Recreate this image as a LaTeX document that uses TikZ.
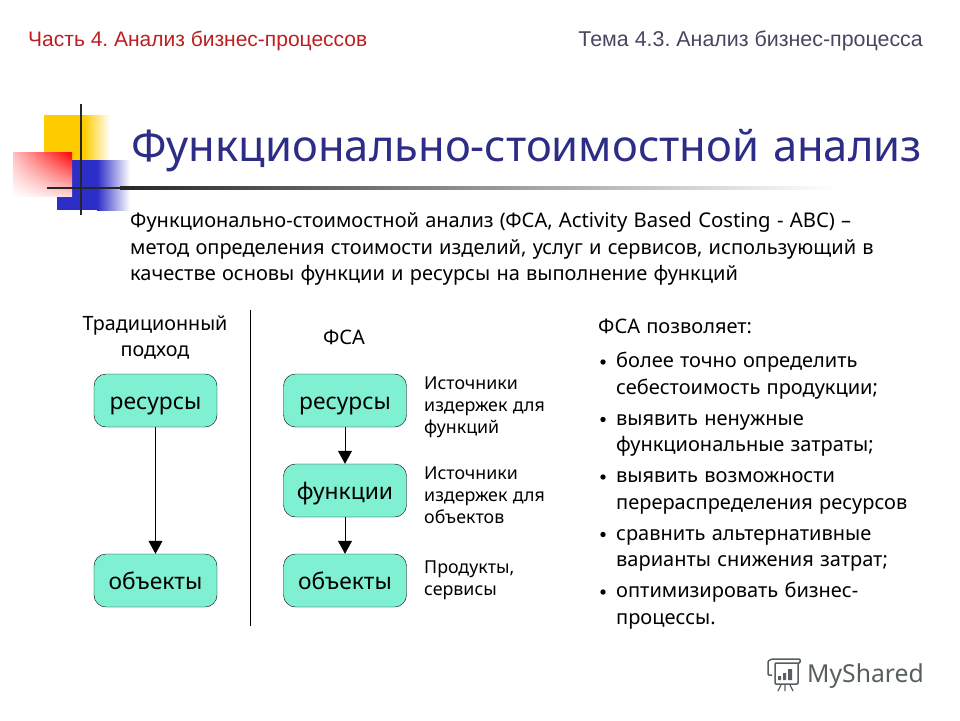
\documentclass[tikz,border=0pt]{standalone}
\usepackage{fontspec}
\setmainfont[WordSpace=1.2]{Noto Sans}
\newfontfamily\headfont{Liberation Sans}
\usetikzlibrary{arrows.meta,shadings}
\definecolor{titleblue}{RGB}{45,45,135}
\definecolor{headred}{RGB}{190,30,30}
\definecolor{headgrey}{RGB}{70,70,95}
\definecolor{boxgreen}{RGB}{128,240,210}
\definecolor{logogrey}{RGB}{85,95,95}
\definecolor{sqyellow}{RGB}{255,204,0}
\definecolor{sqblue}{RGB}{45,45,200}
\frenchspacing
\newcommand{\lnup}{\rule{0pt}{17pt}}
\tikzset{
  stepbox/.style={draw=black,fill=boxgreen,rounded corners=12pt,minimum width=123pt,minimum height=53pt,inner sep=0pt,text height=18pt,text depth=0pt,font=\fontsize{22.8}{24}\selectfont},
  flow/.style={draw=black,line width=0.8pt,-{Triangle[length=13pt,width=14pt]}},
  plain/.style={inner sep=0pt,align=left,font=\fontsize{20}{26.5}\selectfont},
  note/.style={inner sep=0pt,align=left,anchor=north west,font=\fontsize{17.8}{22}\selectfont},
  item/.style={inner sep=0pt,align=left,anchor=north west,font=\fontsize{20}{26.5}\selectfont},
  head/.style={inner sep=0pt,font=\headfont\fontsize{21}{23}\selectfont},
}
\begin{document}
\begin{tikzpicture}[x=1pt,y=-1pt]
  \useasboundingbox (0,0) rectangle (960,720);
  % logo squares
  \shade[left color=sqyellow,right color=white] (84,115) rectangle (110,162);
  \fill[sqyellow] (44,115) rectangle (84,162);
  \shade[left color=sqblue,right color=white] (97,160) rectangle (130,210);
  \fill[sqblue] (57,160) rectangle (97,210);
  \shade[lower left=white,upper right=red,upper left=red!25,lower right=red!15] (13,152) rectangle (72,196);
  \shade[left color=black!85,right color=white] (120,186.7) rectangle (835,189.3);
  \fill[black!85] (47,186.7) rectangle (120,189.3);
  \draw[line width=2.5pt,black!85] (81,104) -- (81,215);
  % header
  \node[head,text=headred,anchor=base west] (part) at (28,46) {Часть 4. Анализ бизнес-процессов};
  \node[head,text=headgrey,anchor=base east,font=\headfont\fontsize{21.4}{23}\selectfont] (theme) at (923,46) {Тема 4.3. Анализ бизнес-процесса};
  \node[text=titleblue,anchor=base west,inner sep=0pt,font=\fontsize{43.5}{46}\selectfont] (title) at (131,161) {Функционально-стоимостной анализ};
  \node[plain,anchor=north west] (intro) at (130,212) {Функционально-стоимостной анализ (ФСА, {\fontsize{20.3}{26.5}\selectfont Activity Based Costing - ABC}) --\\метод определения стоимости изделий, услуг и сервисов, использующий в\\качестве основы функции и ресурсы на выполнение функций};
  % left column
  \node[plain,align=center,font=\fontsize{19.7}{26}\selectfont] (trad) at (155,337.5) {Традиционный\\подход};
  \node[stepbox] (res1) at (155.5,400.5) {ресурсы};
  \node[stepbox] (obj1) at (155.5,580.5) {объекты};
  \draw[flow] (res1) -- (obj1);
  \coordinate (sepa) at (250,310);
  \coordinate (sepb) at (250,626);
  \draw (sepa) -- (sepb);
  % right column
  \node[inner sep=0pt,font=\fontsize{20}{22}\selectfont] (fsa) at (344,337) {ФСА};
  \node[stepbox] (res2) at (345,400.5) {ресурсы};
  \node[stepbox] (fun2) at (345,490.5) {функции};
  \node[stepbox] (obj2) at (345,580.5) {объекты};
  \draw[flow] (res2) -- (fun2);
  \draw[flow] (fun2) -- (obj2);
  \node[note] (src1) at (424,377) {Источники\\издержек для\\функций};
  \node[note] (src2) at (424,467) {Источники\\издержек для\\объектов};
  \node[note] (src3) at (424,561) {Продукты,\\сервисы};
  % list
  \node[item] (can) at (598,318.5) {ФСА позволяет:};
  \foreach \y/\t in {350.5/{более точно определить\\себестоимость продукции;},
                     408/{выявить ненужные\\функциональные затраты;},
                     465.5/{выявить возможности\\перераспределения ресурсов},
                     523/{сравнить альтернативные\\варианты снижения затрат;},
                     580.5/{оптимизировать бизнес-\\процессы.}} {
    \node[item] at (616,\y) {\lnup\t};
    \fill (603,\y+11.5) circle (2.7pt);
  }
  % mark
  \node[anchor=base west,inner sep=0pt,text=logogrey,font=\fontsize{24.7}{28}\selectfont] (brand) at (807,682) {MyShared};
  \draw[logogrey,line width=1.5pt,rounded corners=1pt] (772,675) -- (768,675) -- (768,661) -- (772,659) -- (800,659) -- (800,663) -- (775,663) -- (775,684) -- (798,684) -- (798,663);
  \fill[logogrey] (778,676) rectangle (781,680) (783,673) rectangle (786,680) (788,669) rectangle (792,680);
  \draw[logogrey,line width=1.2pt] (781,685) -- (778,691) (785,685) -- (785,691) (790,685) -- (793,691);
\end{tikzpicture}
\end{document}
